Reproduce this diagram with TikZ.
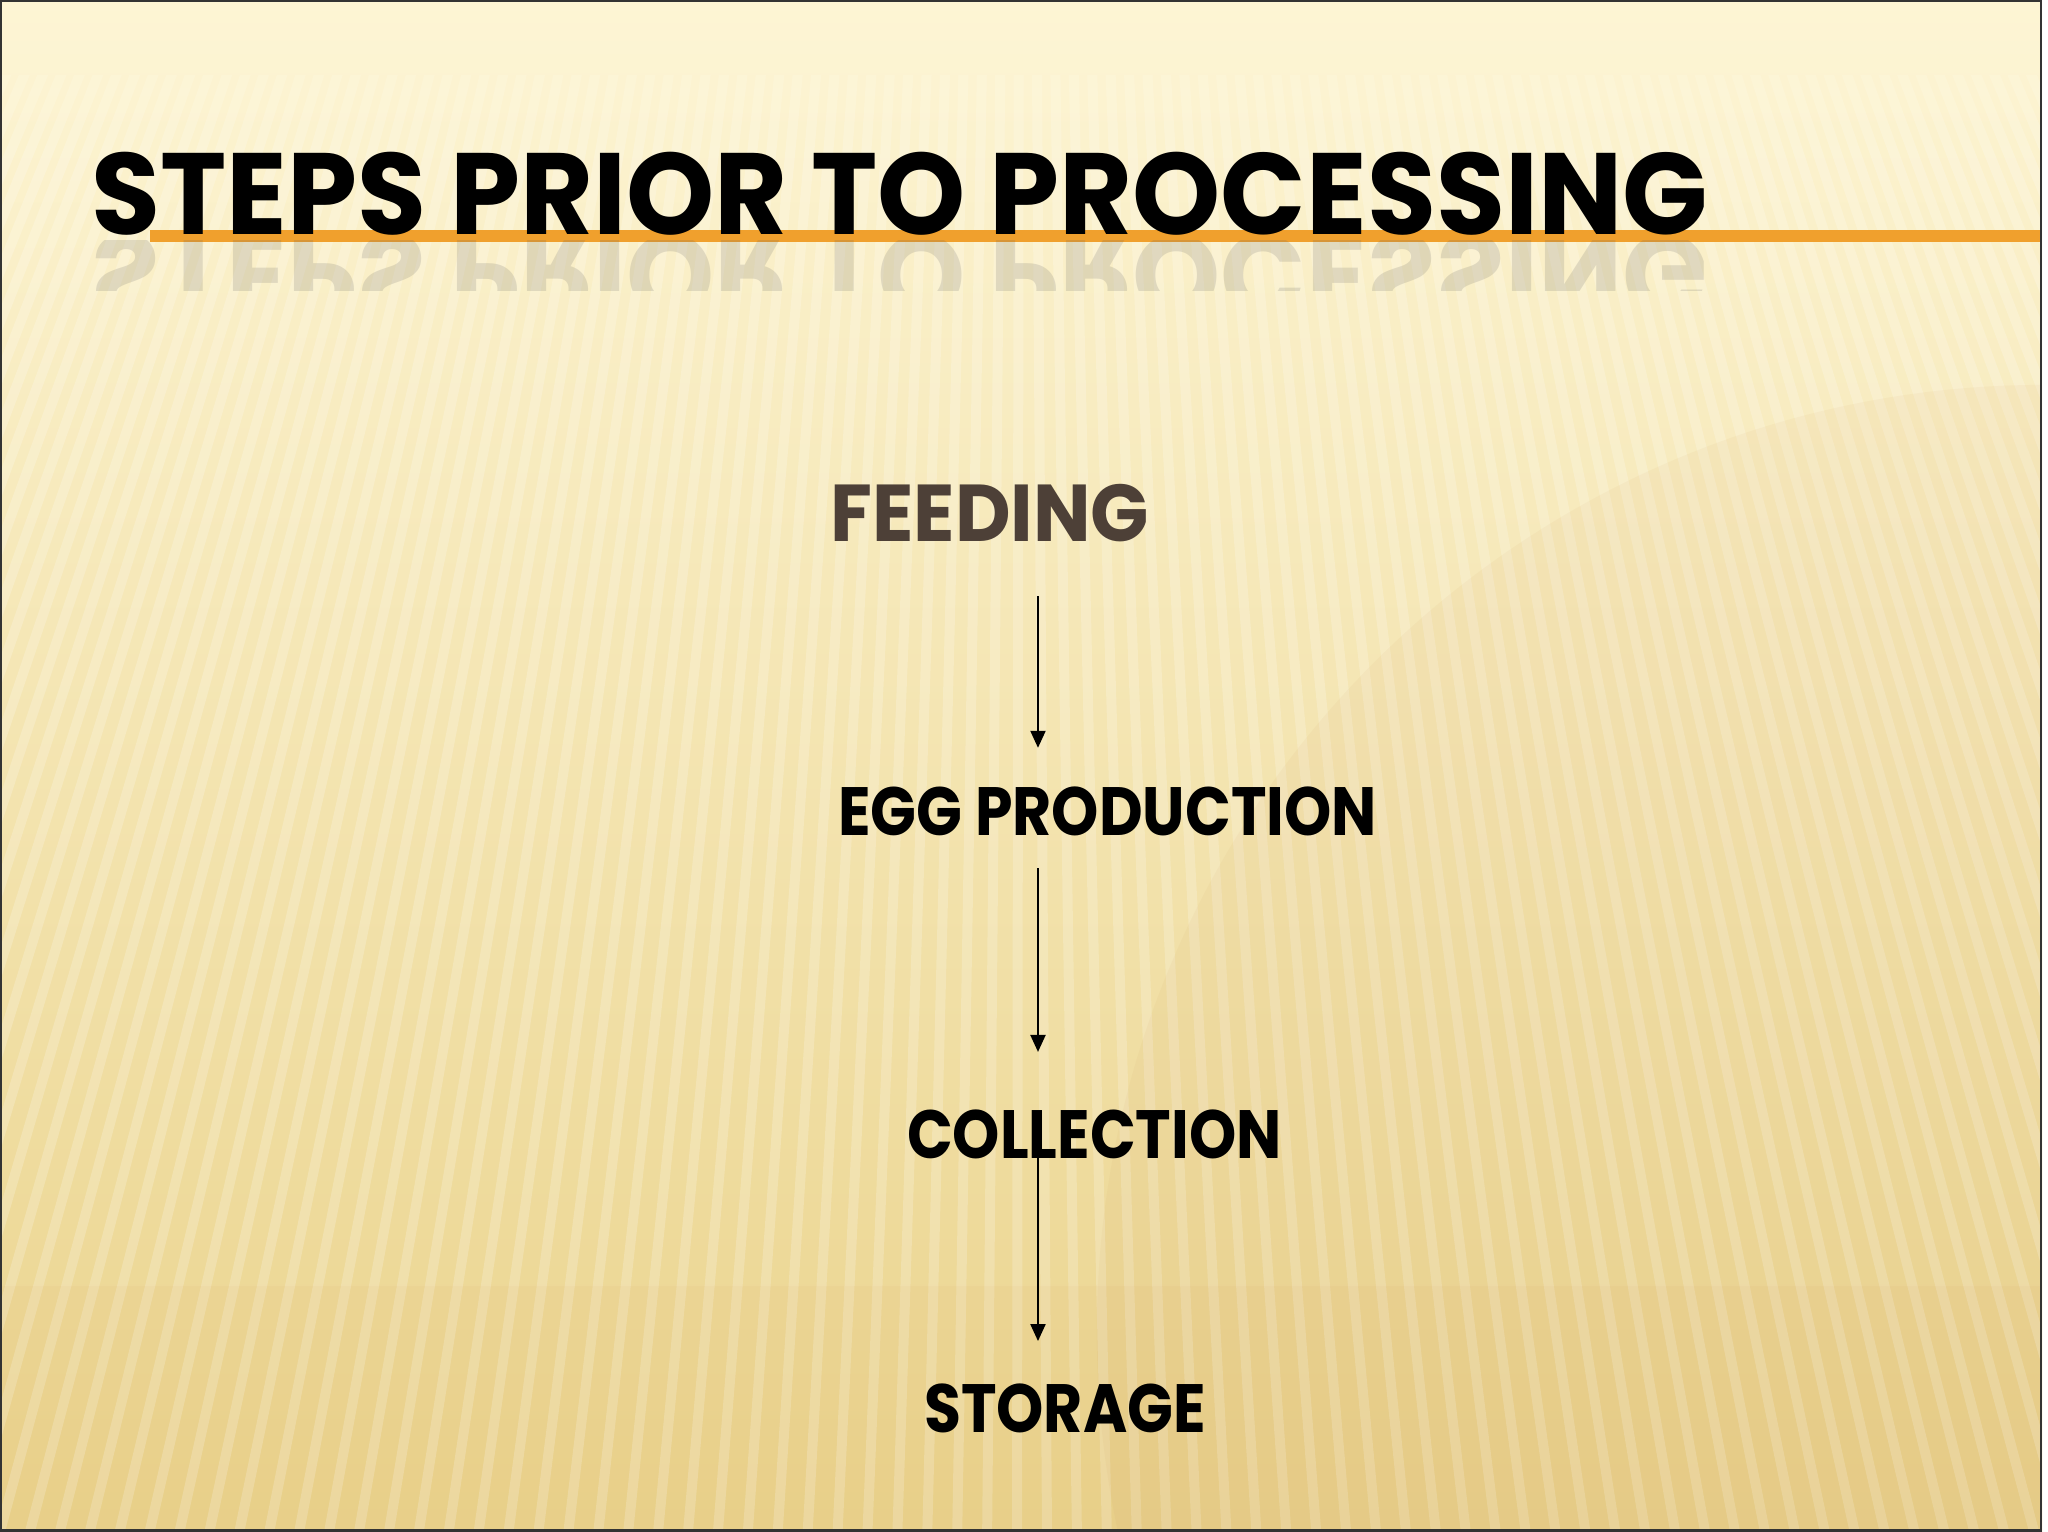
\documentclass[tikz,border=0pt]{standalone}
\usepackage{fontspec}
\setmainfont{Poppins}
\newfontfamily\headfont{Poppins}[FakeStretch=0.97]
\newfontfamily\stagefont{Poppins}[FakeStretch=0.88]
\newfontfamily\feedfont{Poppins}[FakeStretch=0.95]
\usetikzlibrary{arrows.meta,positioning,calc,fadings}

\definecolor{slidetop}{RGB}{253,245,212}
\definecolor{slidebottom}{RGB}{234,211,140}
\definecolor{ruleorange}{RGB}{240,160,45}
\definecolor{feedbrown}{RGB}{77,64,55}

\begin{document}
\begin{tikzpicture}
\tikzset{
  heading/.style = {anchor=base west, inner sep=0pt, font=\headfont\fontsize{33}{36}\selectfont\bfseries},
  stage/.style = {anchor=base west, inner sep=0pt, font=\stagefont\fontsize{19.5}{22}\selectfont\bfseries},
  flow/.style = {line width=0.6pt, -{Triangle[width=1.5mm,length=1.7mm]}},
  stripe/.style = {white, opacity=0.2, line width=1mm}
}

% slide background
\shade[top color=slidetop, bottom color=slidebottom] (0,0) rectangle (20.48,15.36);
\begin{scope}
  \clip (0,0) rectangle (20.48,14.6);
  \foreach \x in {-9,-8.7,...,30}
    \draw[stripe] (\x,0) -- (10.24,38);
  \fill[brown, opacity=0.05] (20.5,2) circle (9.5);
  \fill[brown, opacity=0.04] (0,0) rectangle (20.48,2.46);
\end{scope}
\fill[slidetop, path fading=south] (0,13.9) rectangle (20.48,15.36);

% title and rule
\draw[ruleorange, line width=1.2mm] (1.5,12.99) -- (20.48,12.99);
\begin{scope}
  \clip (0,12.95) rectangle (20.48,12.45);
  \node[heading, yscale=-1, black!60, opacity=0.18] (shadow) at (0.91,13.01) {STEPS PRIOR TO PROCESSING};
\end{scope}
\node[heading] (title) at (0.91,13.01) {STEPS PRIOR TO PROCESSING};

% the four steps
\coordinate (spine) at (10.41,0);
\node[stage, feedbrown, font=\feedfont\fontsize{23}{26}\selectfont\bfseries] (feed) at (8.32,9.93) {FEEDING};
\node[stage] (egg) at (8.40,6.98) {EGG PRODUCTION};
\node[stage] (coll) at (9.09,3.74) {COLLECTION};
\node[stage] (store) at (9.26,0.99) {STORAGE};

\draw[flow] ($(feed.base -| spine)+(0,-0.55)$) -- ($(egg.base -| spine)+(0,0.88)$);
\draw[flow] ($(egg.base -| spine)+(0,-0.33)$) -- ($(coll.base -| spine)+(0,1.07)$);
\draw[flow] ($(coll.base -| spine)+(0,0.15)$) -- ($(store.base -| spine)+(0,0.92)$);

% frame
\draw[black!80, line width=0.6pt] (0.01,0.01) rectangle (20.47,15.35);
\end{tikzpicture}
\end{document}
